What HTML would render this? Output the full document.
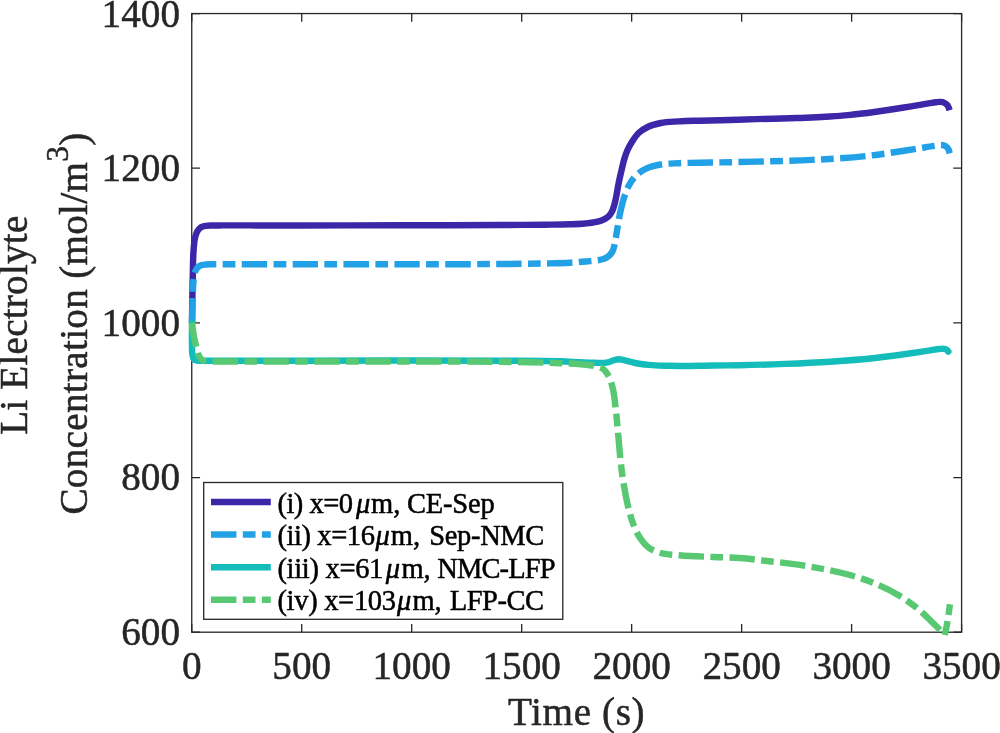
<!DOCTYPE html>
<html lang="en">
<head>
<meta charset="utf-8">
<title>Li Electrolyte Concentration vs Time</title>
<style>
html,body{margin:0;padding:0;background:#ffffff;}
body{width:1000px;height:733px;overflow:hidden;position:relative;}
</style>
</head>
<body>
<svg width="1000" height="733" viewBox="0 0 1000 733" style="display:block;position:absolute;left:0;top:0">
<rect x="0" y="0" width="1000" height="733" fill="#ffffff"/>
<g fill="none" stroke="#262626" stroke-width="1.3" shape-rendering="auto">
<rect x="191.75" y="13.55" width="769.85" height="618.65"/>
<path d="M191.75 632.20V623.90 M191.75 13.55V21.85 M301.73 632.20V623.90 M301.73 13.55V21.85 M411.71 632.20V623.90 M411.71 13.55V21.85 M521.69 632.20V623.90 M521.69 13.55V21.85 M631.66 632.20V623.90 M631.66 13.55V21.85 M741.64 632.20V623.90 M741.64 13.55V21.85 M851.62 632.20V623.90 M851.62 13.55V21.85 M961.60 632.20V623.90 M961.60 13.55V21.85 M191.75 632.20H200.05 M961.60 632.20H953.30 M191.75 477.54H200.05 M961.60 477.54H953.30 M191.75 322.88H200.05 M961.60 322.88H953.30 M191.75 168.21H200.05 M961.60 168.21H953.30 M191.75 13.55H200.05 M961.60 13.55H953.30 "/>
</g>
<g fill="none" stroke-width="6.45" stroke-linejoin="round" stroke-linecap="butt">
<path d="M192.00 322.70 C192.10 315.21 192.18 307.49 192.30 300.00 C192.44 291.75 192.59 283.25 192.80 275.00 C193.01 266.75 192.87 258.22 193.60 250.00 C193.95 246.03 193.99 241.86 195.00 238.00 C195.62 235.63 196.14 233.04 197.50 231.00 C198.43 229.60 199.57 228.19 201.00 227.30 C202.46 226.39 204.30 226.11 206.00 225.80 C207.95 225.45 210.02 225.57 212.00 225.50 C215.30 225.38 218.70 225.42 222.00 225.40 C231.24 225.33 240.76 225.40 250.00 225.40 C266.50 225.40 283.50 225.41 300.00 225.40 C333.00 225.39 367.00 225.37 400.00 225.30 C433.00 225.23 467.00 225.18 500.00 225.00 C514.85 224.92 530.15 224.89 545.00 224.70 C553.25 224.60 561.76 224.62 570.00 224.30 C574.95 224.11 580.07 223.99 585.00 223.50 C588.31 223.17 591.75 222.91 595.00 222.20 C597.18 221.73 599.43 221.22 601.50 220.40 C603.04 219.79 604.62 219.10 606.00 218.20 C607.26 217.38 608.50 216.42 609.50 215.30 C610.50 214.18 611.31 212.83 612.00 211.50 C612.89 209.79 613.43 207.84 614.00 206.00 C614.74 203.63 615.26 201.12 615.80 198.70 C616.86 193.99 617.44 189.03 618.40 184.30 C619.36 179.56 620.49 174.71 621.60 170.00 C622.46 166.36 623.21 162.58 624.30 159.00 C625.22 155.98 626.21 152.87 627.50 150.00 C628.81 147.08 630.46 144.19 632.20 141.50 C634.10 138.55 636.05 135.41 638.60 133.00 C641.22 130.53 644.47 128.59 647.70 127.00 C651.73 125.02 656.31 123.93 660.70 123.00 C666.57 121.76 672.82 121.78 678.80 121.40 C685.79 120.96 693.00 120.90 700.00 120.70 C706.60 120.51 713.40 120.38 720.00 120.20 C731.88 119.88 744.12 119.44 756.00 119.10 C767.22 118.78 778.78 118.53 790.00 118.20 C797.26 117.98 804.74 117.83 812.00 117.50 C817.94 117.23 824.06 116.90 830.00 116.50 C835.94 116.10 842.07 115.66 848.00 115.10 C857.27 114.22 866.78 112.95 876.00 111.70 C885.26 110.44 894.78 108.99 904.00 107.50 C908.76 106.73 913.65 105.91 918.40 105.10 C922.23 104.45 926.16 103.70 930.00 103.10 C931.98 102.79 934.01 102.40 936.00 102.20 C937.48 102.05 939.02 101.78 940.50 101.90 C941.67 102.00 942.92 102.13 944.00 102.60 C945.04 103.06 946.01 103.78 946.80 104.60 C947.54 105.37 948.13 106.34 948.60 107.30 C949.05 108.21 949.27 109.24 949.60 110.20" stroke="#3e26a8"/>
<path d="M192.00 322.70 C192.10 318.51 192.18 314.19 192.30 310.00 C192.44 305.05 192.59 299.95 192.80 295.00 C193.01 290.05 192.95 284.91 193.60 280.00 C193.95 277.34 194.01 274.49 195.00 272.00 C195.63 270.42 196.30 268.70 197.50 267.50 C198.47 266.54 199.73 265.81 201.00 265.30 C202.55 264.68 204.34 264.67 206.00 264.50 C207.97 264.30 210.02 264.34 212.00 264.30 C215.30 264.23 218.70 264.30 222.00 264.30 C231.24 264.30 240.76 264.30 250.00 264.30 C266.50 264.30 283.50 264.31 300.00 264.30 C333.00 264.29 367.00 264.25 400.00 264.20 C433.00 264.15 467.00 264.27 500.00 264.00 C514.85 263.88 530.15 263.86 545.00 263.50 C553.25 263.30 561.76 263.19 570.00 262.70 C575.12 262.39 580.39 261.95 585.50 261.50 C588.64 261.22 591.88 261.03 595.00 260.60 C597.15 260.30 599.41 260.10 601.50 259.50 C603.03 259.06 604.61 258.56 606.00 257.80 C607.25 257.12 608.47 256.28 609.50 255.30 C610.59 254.26 611.56 253.01 612.30 251.70 C613.11 250.26 613.55 248.59 614.00 247.00 C614.49 245.28 614.75 243.45 615.10 241.70 C616.04 236.97 616.77 232.05 617.60 227.30 C618.42 222.58 619.10 217.69 620.10 213.00 C621.11 208.24 622.20 203.33 623.70 198.70 C625.28 193.83 626.88 188.70 629.50 184.30 C631.64 180.70 634.17 177.08 637.30 174.30 C640.31 171.62 644.01 169.51 647.70 167.90 C651.77 166.13 656.34 165.28 660.70 164.50 C666.59 163.44 672.82 163.50 678.80 163.20 C685.79 162.85 693.00 162.83 700.00 162.70 C706.60 162.57 713.40 162.52 720.00 162.40 C731.88 162.19 744.12 161.90 756.00 161.60 C774.48 161.13 793.54 160.86 812.00 159.90 C830.50 158.94 849.59 157.91 868.00 155.80 C877.26 154.74 886.77 153.36 896.00 152.00 C903.40 150.91 911.01 149.68 918.40 148.50 C923.68 147.66 929.10 146.62 934.40 145.90 C936.81 145.57 939.30 144.67 941.70 145.00 C943.17 145.20 944.78 145.46 946.00 146.30 C947.06 147.03 947.88 148.17 948.50 149.30 C949.17 150.54 949.30 152.05 949.70 153.40" stroke="#22a1e6" stroke-dasharray="25.44 6.36 12.72 6.36" stroke-dashoffset="0.80"/>
<path d="M192.00 322.70 C192.00 330.06 191.75 337.65 192.00 345.00 C192.11 348.30 191.73 351.79 192.50 355.00 C192.86 356.52 192.79 358.51 194.00 359.50 C194.81 360.16 195.98 360.27 197.00 360.50 C198.93 360.94 201.02 360.66 203.00 360.70 C205.97 360.76 209.03 360.70 212.00 360.70 C224.54 360.70 237.46 360.70 250.00 360.70 C266.50 360.70 283.50 360.70 300.00 360.70 C366.00 360.70 434.00 360.19 500.00 360.70 C519.80 360.85 540.21 360.67 560.00 361.30 C571.23 361.66 582.77 362.95 594.00 362.80 C598.56 362.74 603.36 363.32 607.80 362.30 C609.97 361.80 612.05 360.76 614.20 360.20 C615.54 359.85 616.92 359.39 618.30 359.30 C620.47 359.15 622.67 359.97 624.80 360.40 C628.20 361.09 631.60 362.31 635.00 363.00 C639.47 363.91 644.16 364.44 648.70 364.90 C655.44 365.58 662.43 365.61 669.20 365.80 C683.85 366.21 698.95 365.64 713.60 365.50 C722.31 365.42 731.29 365.36 740.00 365.20 C754.85 364.93 770.16 364.48 785.00 363.90 C799.86 363.32 815.16 362.67 830.00 361.70 C844.87 360.73 860.19 359.61 875.00 358.00 C886.91 356.70 899.14 355.02 911.00 353.30 C917.28 352.39 923.73 351.34 930.00 350.40 C933.13 349.93 936.34 349.20 939.50 349.00 C941.08 348.90 942.76 348.53 944.30 348.90 C945.24 349.12 946.25 349.39 947.00 350.00 C947.53 350.43 947.87 351.07 948.30 351.60" stroke="#14bdb9" stroke-linecap="round"/>
<path d="M192.00 322.70 C192.30 325.11 192.56 327.60 192.90 330.00 C193.28 332.65 193.67 335.38 194.20 338.00 C194.60 339.99 195.14 342.02 195.60 344.00 C196.06 345.98 196.45 348.04 197.00 350.00 C197.52 351.84 197.95 353.79 198.80 355.50 C199.45 356.80 200.11 358.23 201.20 359.20 C202.13 360.02 203.32 360.61 204.50 361.00 C205.92 361.47 207.51 361.41 209.00 361.50 C210.65 361.60 212.35 361.50 214.00 361.50 C216.64 361.50 219.36 361.50 222.00 361.50 C231.24 361.50 240.76 361.50 250.00 361.50 C266.50 361.50 283.50 361.50 300.00 361.50 C333.00 361.50 367.00 361.45 400.00 361.50 C433.00 361.55 467.00 361.28 500.00 361.80 C519.80 362.11 540.21 362.36 560.00 363.20 C566.77 363.49 573.76 363.56 580.50 364.20 C585.00 364.62 589.71 364.83 594.10 365.90 C597.00 366.61 600.23 367.03 602.70 368.70 C605.37 370.50 607.20 373.51 608.80 376.30 C610.82 379.83 611.69 384.06 612.70 388.00 C614.12 393.53 614.57 399.44 615.30 405.10 C616.17 411.84 616.75 418.83 617.40 425.60 C618.04 432.33 618.57 439.27 619.20 446.00 C619.83 452.77 620.38 459.75 621.20 466.50 C622.03 473.29 623.03 480.26 624.20 487.00 C625.38 493.80 626.60 500.81 628.30 507.50 C629.74 513.18 631.21 519.07 633.40 524.50 C635.28 529.18 637.32 534.06 640.20 538.20 C642.60 541.65 645.29 545.23 648.70 547.70 C651.74 549.90 655.45 551.29 659.00 552.50 C665.46 554.71 672.71 554.60 679.50 555.30 C690.71 556.46 702.34 556.51 713.60 557.00 C722.31 557.38 731.31 557.36 740.00 558.00 C748.94 558.66 758.09 559.99 767.00 561.00 C775.91 562.01 785.12 562.85 794.00 564.10 C802.94 565.36 812.13 566.89 821.00 568.60 C829.96 570.32 839.20 572.09 848.00 574.50 C857.06 576.98 866.33 579.88 875.00 583.50 C882.72 586.73 890.50 590.53 897.70 594.80 C905.44 599.39 913.15 604.67 920.00 610.50 C924.53 614.36 928.76 618.82 933.00 623.00 C935.53 625.49 938.09 628.09 940.60 630.60" stroke="#58c972" stroke-dasharray="25.44 6.36 12.72 6.36" stroke-dashoffset="1.00"/>
<path d="M944.60 635.00 C945.26 632.20 946.02 629.32 946.60 626.50 C947.44 622.41 948.00 618.13 948.60 614.00 C949.07 610.77 949.47 607.43 949.90 604.20" stroke="#58c972" stroke-dasharray="14.3 6.0 20 6"/>
</g>
<rect x="203.70" y="482.50" width="359.10" height="136.80" fill="#ffffff" stroke="#262626" stroke-width="1.3"/>
<g fill="none" stroke-width="6.45">
<path d="M211 501.90H270.8" stroke="#3e26a8"/>
<path d="M211 534.50H270.8" stroke="#22a1e6" stroke-dasharray="25.44 6.36 12.72 6.36"/>
<path d="M211 567.20H270.8" stroke="#14bdb9"/>
<path d="M211 599.80H270.8" stroke="#58c972" stroke-dasharray="25.44 6.36 12.72 6.36"/>
</g>
<g font-family="'Liberation Serif', 'Times New Roman', serif" fill="#262626" stroke="#262626" stroke-width="0.50" stroke-linejoin="round">
<g font-size="39.20" text-anchor="middle">
<text transform="translate(191.75 679.40) scale(1 1.040)">0</text>
<text transform="translate(301.73 679.40) scale(1 1.040)">500</text>
<text transform="translate(411.71 679.40) scale(1 1.040)">1000</text>
<text transform="translate(521.69 679.40) scale(1 1.040)">1500</text>
<text transform="translate(631.66 679.40) scale(1 1.040)">2000</text>
<text transform="translate(741.64 679.40) scale(1 1.040)">2500</text>
<text transform="translate(851.62 679.40) scale(1 1.040)">3000</text>
<text transform="translate(961.60 679.40) scale(1 1.040)">3500</text>
</g>
<g font-size="39.20" text-anchor="end">
<text transform="translate(180.00 644.70) scale(1 1.040)">600</text>
<text transform="translate(180.00 490.20) scale(1 1.040)">800</text>
<text transform="translate(180.00 335.70) scale(1 1.040)">1000</text>
<text transform="translate(180.00 181.20) scale(1 1.040)">1200</text>
<text transform="translate(180.00 26.70) scale(1 1.040)">1400</text>
</g>
<text x="576.60" y="725.40" font-size="39.20" text-anchor="middle" letter-spacing="0.60">Time (s)</text>
<text transform="translate(27.20 325.20) rotate(-90)" font-size="39.20" text-anchor="middle" letter-spacing="0.20">Li Electrolyte</text>
<text transform="translate(86.80 323.50) rotate(-90)" font-size="39.20" text-anchor="middle" letter-spacing="0.28">Concentration (mol/m<tspan dy="-19.00" font-size="31.50">3</tspan><tspan dy="19.00">)</tspan></text>
<g font-size="28.50" fill="#000" stroke="#000">
<text y="512.50"><tspan x="277.40" letter-spacing="-0.50">(i) x=0</tspan><tspan x="356.00" font-style="italic" letter-spacing="0.00">μ</tspan><tspan x="371.00" letter-spacing="0.00">m, </tspan><tspan x="407.00" letter-spacing="-0.20">CE-Sep</tspan></text>
<text y="545.10"><tspan x="277.40" letter-spacing="-0.40">(ii) x=16</tspan><tspan x="375.40" font-style="italic" letter-spacing="0.00">μ</tspan><tspan x="390.80" letter-spacing="0.00">m, </tspan><tspan x="429.30" letter-spacing="-0.35">Sep-NMC</tspan></text>
<text y="577.80"><tspan x="277.40" letter-spacing="-0.30">(iii) x=61</tspan><tspan x="385.70" font-style="italic" letter-spacing="0.00">μ</tspan><tspan x="401.40" letter-spacing="0.00">m, </tspan><tspan x="437.20" letter-spacing="-0.85">NMC-LFP</tspan></text>
<text y="610.40"><tspan x="277.40" letter-spacing="-0.30">(iv) x=103</tspan><tspan x="397.10" font-style="italic" letter-spacing="0.00">μ</tspan><tspan x="412.40" letter-spacing="0.00">m, </tspan><tspan x="449.80" letter-spacing="-0.50">LFP-CC</tspan></text>
</g>
</g>
</svg>
</body>
</html>
